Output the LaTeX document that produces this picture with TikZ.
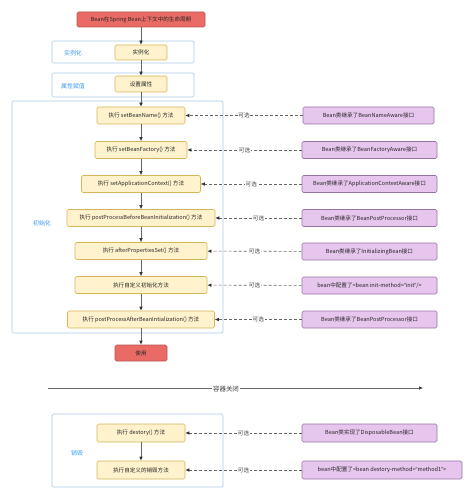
\documentclass[tikz,border=0pt]{standalone}
\usepackage{fontspec}
\setmainfont{Noto Sans CJK SC}
\newfontfamily\latq{Liberation Sans}
\newcommand{\dq}{{\latq\symbol{34}}}
\usetikzlibrary{arrows.meta}
\definecolor{redfill}{HTML}{EA6B66}
\definecolor{redline}{HTML}{B85450}
\definecolor{yelfill}{HTML}{FFF2CC}
\definecolor{yelline}{HTML}{D6B656}
\definecolor{purfill}{HTML}{E6C6EC}
\definecolor{purline}{HTML}{9673A6}
\definecolor{contline}{HTML}{A9C8EB}
\definecolor{contlabel}{HTML}{3D9BF0}
\definecolor{flowline}{HTML}{666666}
\tikzset{
  base/.style={rounded corners=1.5bp, font=\fontsize{5.6}{6}\selectfont, inner sep=0pt, line width=0.6bp, text=black!85},
  redbox/.style={base, draw=redline, fill=redfill, minimum height=15bp},
  yelbox/.style={base, draw=yelline, fill=yelfill, minimum height=17bp},
  purbox/.style={base, draw=purline, fill=purfill, minimum height=17bp},
  cont/.style={draw=contline, rounded corners=1.5bp, line width=0.7bp},
  contlbl/.style={font=\fontsize{6}{7}\selectfont, text=contlabel},
  flow/.style={draw=flowline, line width=0.6bp, -{Latex[length=4bp,width=3.5bp,color=black!80]}},
  opt/.style={draw=flowline, dashed, dash pattern=on 3bp off 2bp, line width=0.6bp, -{Latex[length=4bp,width=3.5bp,color=black!80]}},
  optlbl/.style={font=\fontsize{5.6}{6}\selectfont, fill=white, inner sep=0.8bp, text=black!75},
}
\begin{document}
\begin{tikzpicture}[x=1bp, y=-1bp]
\useasboundingbox (0,0) rectangle (474,500);
% containers
\draw[cont] (52,41) rectangle (194,63);
\node[contlbl] (l1) at (73,53) {实例化};
\draw[cont] (52,73) rectangle (194,97);
\node[contlbl] (l2) at (73,86) {属性赋值};
\draw[cont] (12,101) rectangle (223,333);
\node[contlbl] (l3) at (42,223) {初始化};
\draw[cont] (52,414) rectangle (223,487);
\node[contlbl] (l4) at (77,453) {销毁};

% main chain
\node[redbox, minimum width=128bp] (top) at (141,19.5) {Bean在Spring Bean上下文中的生命周期};
\node[yelbox, minimum width=52bp, minimum height=15bp] (inst) at (141,52.5) {实例化};
\node[yelbox, minimum width=52bp, minimum height=16bp] (prop) at (141,84) {设置属性};
\node[yelbox, minimum width=88bp] (a1) at (141,115.5) {执行 setBeanName() 方法};
\node[yelbox, minimum width=92bp] (a2) at (141,150) {执行 setBeanFactory() 方法};
\node[yelbox, minimum width=119bp] (a3) at (141,184) {执行 setApplicationContext() 方法};
\node[yelbox, minimum width=148bp] (a4) at (141,218) {执行 postProcessBeforeBeanInitialization() 方法};
\node[yelbox, minimum width=132bp] (a5) at (141,251) {执行 afterPropertiesSet() 方法};
\node[yelbox, minimum width=132bp] (a6) at (141,285) {执行自定义初始化方法};
\node[yelbox, minimum width=147bp] (a7) at (141,319.5) {执行 postProcessAfterBeanIntialization() 方法};
\node[redbox, minimum width=52bp, minimum height=16bp] (use) at (141,353) {使用};

\draw[flow] (top) -- (inst);
\draw[flow] (inst) -- (prop);
\draw[flow] (prop) -- (a1);
\draw[flow] (a1) -- (a2);
\draw[flow] (a2) -- (a3);
\draw[flow] (a3) -- (a4);
\draw[flow] (a4) -- (a5);
\draw[flow] (a5) -- (a6);
\draw[flow] (a6) -- (a7);
\draw[flow] (a7) -- (use);

% right boxes
\node[purbox, minimum width=131bp] (p1) at (368.5,115.5) {Bean类继承了BeanNameAware接口};
\node[purbox, minimum width=135bp] (p2) at (369.5,150) {Bean类继承了BeanFactoryAware接口};
\node[purbox, minimum width=135bp] (p3) at (369.5,184) {Bean类继承了ApplicationContextAware接口};
\node[purbox, minimum width=135bp] (p4) at (369.5,218) {Bean类继承了BeanPostProcessor接口};
\node[purbox, minimum width=135bp] (p5) at (369.5,251.5) {Bean类继承了InitializingBean接口};
\node[purbox, minimum width=135bp] (p6) at (369.5,285.5) {bean中配置了<bean init-method=\dq init\dq/>};
\node[purbox, minimum width=135bp] (p7) at (369.5,319.5) {Bean类继承了BeanPostProcessor接口};

\foreach \i in {1,...,7}{
  \draw[opt] (p\i) -- node[optlbl] {可选} (a\i);
}

% container close
\coordinate (c1) at (48,388);
\coordinate (c2) at (423,388);
\draw[flow] (c1) -- (c2);
\node[font=\fontsize{6.5}{7}\selectfont, fill=white, inner sep=0.8bp, text=black!75] (close) at (226,389.5) {容器关闭};

% destroy
\node[yelbox, minimum width=88bp, minimum height=18bp] (d1) at (141,433) {执行 destory() 方法};
\node[yelbox, minimum width=88bp, minimum height=18bp] (d2) at (141,470) {执行自定义的销毁方法};
\draw[flow] (d1) -- (d2);
\node[purbox, minimum width=135bp, minimum height=18bp] (q1) at (369.5,433) {Bean类实现了DisposableBean接口};
\node[purbox, minimum width=160bp, minimum height=18bp] (q2) at (382,470) {bean中配置了<bean destory-method=\dq method1\dq>};
\draw[opt] (q1) -- node[optlbl] {可选} (d1);
\draw[opt] (q2) -- node[optlbl] {可选} (d2);
\end{tikzpicture}
\end{document}
